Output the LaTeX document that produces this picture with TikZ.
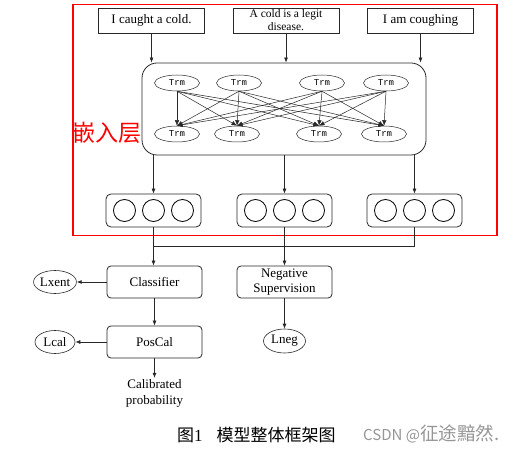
\documentclass[tikz,border=0pt]{standalone}
\usepackage{fontspec}
\setmainfont{Liberation Serif}
\newfontfamily\cjk{Noto Sans CJK SC}
\newfontfamily\trmfont{Liberation Mono}
\usetikzlibrary{shapes.geometric,arrows.meta}
\definecolor{lineclr}{RGB}{40,40,40}
\definecolor{wmgray}{RGB}{150,150,150}
\begin{document}
\begin{tikzpicture}[x=1pt,y=-1pt,
  line/.style={draw=lineclr, line width=0.7pt},
  arr/.style={line, -{Latex[length=5pt,width=4pt]}},
  trmarr/.style={draw=lineclr, line width=0.5pt, -{Latex[length=5.5pt,width=4.5pt]}},
  inbox/.style={draw=lineclr, line width=0.8pt, minimum width=106pt, minimum height=25pt, inner sep=1pt, align=center, font=\fontsize{13}{14}\selectfont},
  trm/.style={ellipse, draw=lineclr, line width=0.5pt, minimum width=45pt, minimum height=16pt, inner sep=0pt, font=\trmfont\fontsize{9}{9}\selectfont},
  vecbox/.style={draw=lineclr, line width=0.8pt, rounded corners=5pt, minimum width=95pt, minimum height=33pt},
  unit/.style={circle, draw=black, line width=0.8pt, minimum size=22pt, inner sep=0pt},
  procbox/.style={draw=lineclr, line width=0.8pt, rounded corners=4pt, minimum width=95pt, minimum height=32pt, inner sep=1pt, align=center, font=\fontsize{13}{15}\selectfont},
  loss/.style={ellipse, draw=lineclr, line width=0.6pt, minimum width=40pt, minimum height=23pt, inner sep=0pt, font=\fontsize{13}{14}\selectfont},
  txt/.style={align=center, inner sep=1pt, font=\fontsize{13}{16}\selectfont}
]
\useasboundingbox (0,0) rectangle (530,454);
\fill[white] (0,0) rectangle (530,454);

% red embedding frame
\node[draw=red, line width=1.3pt, minimum width=424pt, minimum height=231pt, inner sep=0pt] (frame) at (285,120) {};
\node[text=red, inner sep=0pt, font=\cjk\fontsize{23}{23}\selectfont] (emb) at (107,133) {嵌入层};

% inputs
\node[inbox] (in1) at (151.5,20.5) {I caught a cold.};
\node[inbox, font=\fontsize{11.5}{13}\selectfont] (in2) at (286,20.5) {A cold is a legit\\disease.};
\node[inbox] (in3) at (420.5,20.5) {I am coughing};

% encoder
\node[draw=lineclr, line width=0.8pt, rounded corners=15pt, minimum width=284pt, minimum height=92pt, inner sep=0pt] (enc) at (284,109) {};
\draw[arr] (in1) -- (in1 |- enc.north);
\draw[arr] (in2) -- (in2 |- enc.north);
\draw[arr] (in3) -- (in3 |- enc.north);

\node[trm] (t1) at (177,83) {Trm};
\node[trm] (t2) at (239,83) {Trm};
\node[trm] (t3) at (322,83) {Trm};
\node[trm] (t4) at (386,83) {Trm};
\node[trm] (b1) at (177,134) {Trm};
\node[trm] (b2) at (237,134) {Trm};
\node[trm] (b3) at (319,134) {Trm};
\node[trm] (b4) at (384,134) {Trm};
\foreach \s in {t1,t2,t3,t4}{
  \foreach \d in {b1,b2,b3,b4}{
    \draw[trmarr] (\s.south) -- (\d.north);
  }
}

% vector boxes
\node[vecbox] (v1) at (153.5,210.5) {};
\node[vecbox] (v2) at (284.5,210.5) {};
\node[vecbox] (v3) at (414.5,210.5) {};
\foreach \v in {v1,v2,v3}{
  \node[unit] (\v a) at ([xshift=-29pt]\v.center) {};
  \node[unit] (\v b) at (\v.center) {};
  \node[unit] (\v c) at ([xshift=29pt]\v.center) {};
}
\draw[arr] (enc.south -| v1) -- (v1.north);
\draw[arr] (enc.south -| v2) -- (v2.north);
\draw[arr] (enc.south -| v3) -- (v3.north);

% heads
\node[procbox] (cls) at (154.5,282) {Classifier};
\node[procbox] (neg) at (284.5,282) {Negative\\Supervision};
\node[procbox] (pos) at (154.5,342) {PosCal};
\node[loss] (lx) at (55,282) {Lxent};
\node[loss] (lc) at (55,342) {Lcal};
\node[loss, minimum width=42pt, minimum height=24pt] (ln) at (284.5,341) {Lneg};
\node[txt] (prob) at (154.5,393) {Calibrated\\probability};

\coordinate (j1) at (153.5,246);
\coordinate (j3) at (414.5,246);
\draw[line] (v1.south) -- (j1) -- (j3) -- (v3.south);
\draw[arr] (j1) -- (j1 |- cls.north);
\draw[arr] (v2.south) -- (neg.north);
\draw[arr] (cls.west) -- (lx.east);
\draw[arr] (cls.south) -- (pos.north);
\draw[arr] (pos.west) -- (lc.east);
\draw[arr] (neg.south) -- (ln.north);
\draw[arr] (pos.south) -- (prob.north);

% caption and watermark
\node[inner sep=0pt, anchor=west] (cap) at (177,435) {{\cjk\fontsize{17}{17}\selectfont 图}\fontsize{17}{17}\selectfont 1\hspace{14pt}{\cjk\fontsize{17}{17}\selectfont 模型整体框架图}};
\node[inner sep=0pt, anchor=west, text=wmgray] (wm) at (363,434) {{\cjk\fontsize{15}{15}\selectfont CSDN @}{\cjk\fontsize{18.5}{18.5}\selectfont 征途黯然.}};
\end{tikzpicture}
\end{document}
